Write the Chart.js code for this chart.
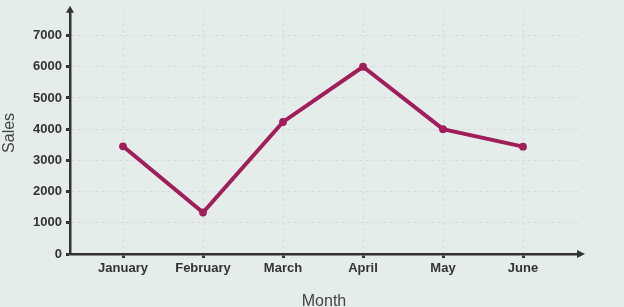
<!DOCTYPE html>
<html>
<head>
<meta charset="utf-8">
<script src="https://cdn.jsdelivr.net/npm/chart.js@4"></script>
<style>
  html, body { margin: 0; padding: 0; background: #e5edea; }
  #wrap { width: 624px; height: 307px; }
</style>
</head>
<body>
<div id="wrap"><canvas id="c" width="624" height="307"></canvas></div>
<script>
const months = ["January", "February", "March", "April", "May", "June"];
const sales = [3450, 1330, 4230, 6000, 4000, 3440];
const yTicks = [0, 1000, 2000, 3000, 4000, 5000, 6000, 7000];

const FONT = "'Liberation Sans', Arial, Helvetica, sans-serif";
const AXIS = '#333333';
const GRID = '#d6d8e6';

const arrows = {
  id: 'arrows',
  afterDraw(chart) {
    const ctx = chart.ctx;
    const a = chart.chartArea;
    const x0 = chart.scales.y.right;
    const y0 = chart.scales.x.top;
    ctx.save();
    ctx.fillStyle = AXIS;
    ctx.beginPath();
    ctx.moveTo(x0, a.top - 6);
    ctx.lineTo(x0 - 4, a.top + 1);
    ctx.lineTo(x0 + 4, a.top + 1);
    ctx.closePath();
    ctx.fill();
    ctx.beginPath();
    ctx.moveTo(a.right + 7, y0);
    ctx.lineTo(a.right - 1, y0 - 4);
    ctx.lineTo(a.right - 1, y0 + 4);
    ctx.closePath();
    ctx.fill();
    ctx.restore();
  }
};

new Chart(document.getElementById('c'), {
  type: 'line',
  data: {
    datasets: [{
      data: sales.map((v, i) => ({ x: i, y: v })),
      borderColor: '#a01e5a',
      backgroundColor: '#a01e5a',
      borderWidth: 4,
      pointRadius: 3.9,
      pointBorderWidth: 0,
      pointHoverRadius: 3.9,
      tension: 0,
      fill: false
    }]
  },
  options: {
    responsive: false,
    animation: false,
    events: [],
    layout: { padding: { left: 0, right: 46, top: 8, bottom: 0 } },
    plugins: { legend: { display: false }, tooltip: { enabled: false } },
    scales: {
      x: {
        type: 'linear',
        min: -0.6625,
        max: 5.6875,
        afterBuildTicks: s => { s.ticks = months.map((m, i) => ({ value: i })); },
        afterFit: s => { s.height = 53; },
        ticks: {
          callback: v => months[v],
          font: { family: FONT, size: 13, weight: 'bold' },
          color: AXIS,
          padding: 3,
          maxRotation: 0,
          autoSkip: false
        },
        grid: {
          color: GRID,
          lineWidth: 1,
          tickColor: AXIS,
          tickLength: 4,
          tickWidth: 3
        },
        border: { display: true, color: AXIS, width: 2.5, dash: [3, 3] },
        title: {
          display: true,
          text: 'Month',
          font: { family: FONT, size: 16 },
          color: '#444444',
          padding: { top: 0, bottom: -4 }
        }
      },
      y: {
        type: 'linear',
        min: 0,
        max: 7760,
        afterBuildTicks: s => { s.ticks = yTicks.map(v => ({ value: v })); },
        afterFit: s => { s.width = 70; },
        ticks: {
          callback: v => String(v),
          font: { family: FONT, size: 13, weight: 'bold' },
          color: AXIS,
          padding: 4
        },
        grid: {
          color: GRID,
          lineWidth: 1,
          tickColor: AXIS,
          tickLength: 4,
          tickWidth: 3
        },
        border: { display: true, color: AXIS, width: 2.5, dash: [3, 3] },
        title: {
          display: true,
          text: 'Sales',
          font: { family: FONT, size: 16 },
          color: '#444444',
          padding: { top: 0, bottom: 0 }
        }
      }
    }
  },
  plugins: [arrows]
});
</script>
</body>
</html>
